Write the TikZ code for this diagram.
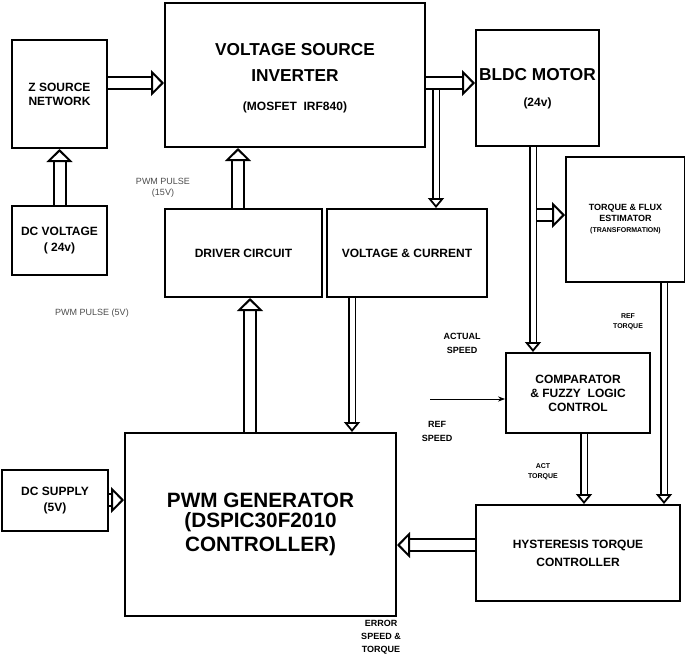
\documentclass[tikz,border=0pt]{standalone}
\usepackage{fontspec}
\setmainfont{Liberation Sans}
\usetikzlibrary{arrows.meta}
\begin{document}
\begin{tikzpicture}[x=1pt,y=-1pt,
 box/.style={draw,line width=2pt,font=\bfseries\large,align=center,inner sep=0pt},
 wide/.style={draw,line width=2pt,double,double distance=10pt,-{Triangle[open,length=13pt,width=26pt]}},
 thin/.style={draw,line width=1.8pt,double,double distance=5pt,-{Triangle[open,length=10pt,width=16pt]}},
 lab/.style={font=\bfseries\small,align=center},
 glab/.style={font=\small,align=center,text=black!70}]
\useasboundingbox (0,0) rectangle (685,669);
\node[box,minimum width=95pt,minimum height=108pt] (z) at (59.5,94) {Z SOURCE\\NETWORK};
\node[box,minimum width=260pt,minimum height=144pt,anchor=north] (vsi) at (295,2) {};
\node[font=\bfseries\LARGE,align=center] (vsit) at (295,62) {VOLTAGE SOURCE\\[4pt]INVERTER};
\node[font=\bfseries\large] (vsim) at (295,107) {(MOSFET\ \ IRF840)};
\node[box,minimum width=123pt,minimum height=116pt] (bldc) at (537.5,88) {};
\node[font=\bfseries\LARGE] (bldct) at (537.5,75) {BLDC MOTOR};
\node[font=\bfseries\large] (bldcv) at (537.5,103) {(24v)};
\node[box,minimum width=95pt,minimum height=69pt] (dcv) at (59.5,240.5) {DC VOLTAGE\\[2pt]( 24v)};
\node[box,minimum width=157pt,minimum height=88pt] (drv) at (243.5,253) {DRIVER CIRCUIT};
\node[box,minimum width=160pt,minimum height=88pt] (vc) at (407,253) {VOLTAGE \& CURRENT};
\node[box,minimum width=119pt,minimum height=125pt,font=\bfseries\small] (tf) at (625.5,219.5) {TORQUE \& FLUX\\ESTIMATOR\\{\scriptsize (TRANSFORMATION)}};
\node[box,minimum width=144pt,minimum height=80pt] (cmp) at (578,393) {COMPARATOR\\\& FUZZY\ \ LOGIC\\CONTROL};
\node[box,minimum width=271pt,minimum height=183pt] (pwm) at (260.5,524.5) {\huge PWM GENERATOR\\[4pt]\huge (DSPIC30F2010\\[4pt]\huge CONTROLLER)};
\node[box,minimum width=106pt,minimum height=61pt] (dcs) at (55,500.5) {DC SUPPLY\\[2pt](5V)};
\node[box,minimum width=204pt,minimum height=96pt] (hys) at (578,553) {HYSTERESIS TORQUE\\[4pt]CONTROLLER};

\draw[wide] (z.east|-0,83) -- (vsi.west|-0,83);
\draw[wide] (dcv.north) -- (z.south);
\draw[wide] (drv.north-|238,0) -- (vsi.south-|238,0);
\draw[wide] (vsi.east|-0,83) -- (bldc.west|-0,83);
\coordinate (br) at (436,90);
\draw[thin] (br) -- (vc.north-|436,0);
\draw[wide] (pwm.north-|250,0) -- (drv.south-|250,0);
\draw[thin] (vc.south-|352,0) -- (pwm.north-|352,0);
\draw[thin] (bldc.south-|533,0) -- (cmp.north-|533,0);
\coordinate (b2) at (537,215);
\draw[wide] (b2) -- (tf.west|-b2);
\draw[thin] (tf.south-|664,0) -- (hys.north-|664,0);
\draw[thin] (cmp.south-|584,0) -- (hys.north-|584,0);
\coordinate (rs) at (430,399);
\draw[-{Stealth[length=7pt]},line width=0.8pt] (rs) -- (cmp.west|-rs);
\draw[wide] (dcs.east|-0,500) -- (pwm.west|-0,500);
\draw[wide] (hys.west|-0,545) -- (pwm.east|-0,545);

\node[glab] (l1) at (163,188) {PWM PULSE\\(15V)};
\node[glab] (l2) at (92,313) {PWM PULSE (5V)};
\node[lab] (l3) at (462,343) {ACTUAL\\[3pt]SPEED};
\node[lab] (l4) at (437,431) {REF\\[3pt]SPEED};
\node[lab,font=\bfseries\scriptsize] (l5) at (628,322) {REF\\[2pt]TORQUE};
\node[lab,font=\bfseries\scriptsize] (l6) at (543,472) {ACT\\[2pt]TORQUE};
\node[lab] (l7) at (381,637) {ERROR\\[2pt]SPEED \&\\[2pt]TORQUE};
\end{tikzpicture}
\end{document}
